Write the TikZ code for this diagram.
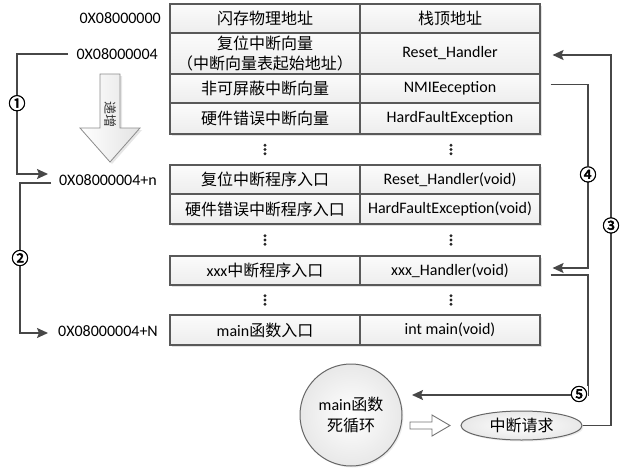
\documentclass[tikz,border=0pt]{standalone}
\usepackage{fontspec}
\setmainfont{Carlito}
\newfontfamily\cjk{Noto Sans CJK SC}
\newfontfamily\numfont[FakeBold=3]{Noto Sans CJK SC}
\usetikzlibrary{shapes.geometric,arrows.meta,shadows,calc}
\begin{document}
\begin{tikzpicture}[x=1pt,y=-1pt,
  font=\fontsize{16}{19}\selectfont,
  cellbase/.style={draw=black!65, line width=1.1pt, top color=gray!3, bottom color=gray!14,
    inner sep=0pt, align=center,
    drop shadow={shadow xshift=2pt,shadow yshift=-2pt,opacity=0.22}},
  cellL/.style={cellbase, minimum width=190pt},
  cellR/.style={cellbase, minimum width=180pt},
  addr/.style={anchor=east, inner sep=0pt},
  conn/.style={draw=black!72, line width=1.5pt, -{Stealth[length=11pt,width=10pt,inset=2pt]}},
  num/.style={font=\numfont\fontsize{17}{17}\selectfont, fill=white, inner sep=0pt},
  dotmark/.style={fill=black!85, draw=none},
]
\useasboundingbox (0,0) rectangle (625,472);

% ---- table cells
\node[cellL, minimum height=29pt] (L1) at (265,18.5) {\cjk 闪存物理地址};
\node[cellR, minimum height=29pt] (R1) at (450,18.5) {\cjk 栈顶地址};
\node[cellL, minimum height=41pt] (L2) at (265,53.5) {\cjk 复位中断向量\\[1pt]\cjk （中断向量表起始地址）};
\node[cellR, minimum height=41pt] (R2) at (450,53.5) {Reset\_Handler};
\node[cellL, minimum height=29pt] (L3) at (265,88.5) {\cjk 非可屏蔽中断向量};
\node[cellR, minimum height=29pt] (R3) at (450,88.5) {NMIEeception};
\node[cellL, minimum height=31pt] (L4) at (265,118.5) {\cjk 硬件错误中断向量};
\node[cellR, minimum height=31pt] (R4) at (450,118.5) {HardFaultException};

\node[cellL, minimum height=29pt] (L5) at (265,179.5) {\cjk 复位中断程序入口};
\node[cellR, minimum height=29pt] (R5) at (450,179.5) {Reset\_Handler(void)};
\node[cellL, minimum height=30pt] (L6) at (265,209) {\cjk 硬件错误中断程序入口};
\node[cellR, minimum height=30pt] (R6) at (450,209) {HardFaultException(void)};

\node[cellL, minimum height=29pt] (L7) at (265,270.5) {xxx{\cjk 中断程序入口}};
\node[cellR, minimum height=29pt] (R7) at (450,270.5) {xxx\_Handler(void)};

\node[cellL, minimum height=30pt] (L8) at (265,330) {main{\cjk 函数入口}};
\node[cellR, minimum height=30pt] (R8) at (450,330) {int main(void)};

% ---- vertical dots
\foreach \yy in {149.5,240,300}{
  \foreach \xx in {265,451}{
    \foreach \d in {-4.2,0,4.2}{
      \fill[dotmark] (\xx,\yy+\d) circle (1.6pt);
    }
  }
}

% ---- address labels
\node[addr] (A1) at (161,18) {0X08000000};
\node[addr] (A2) at (158,54) {0X08000004};
\node[addr] (A5) at (157,180) {0X08000004+n};
\node[addr] (A8) at (158,331) {0X08000004+N};

% ---- big down arrow
\draw[draw=black!45, line width=0.8pt, left color=white, right color=gray!22,
      drop shadow={shadow xshift=2pt,shadow yshift=-2pt,opacity=0.2}]
  (100,74) -- (120,74) -- (120,128) -- (140,128) -- (110,162) -- (80,128) -- (100,128) -- cycle;
\node[rotate=-90, font=\cjk\fontsize{13}{13}\selectfont, inner sep=0pt, text=black!80] (inc) at (110,114) {递增};

% ---- left connectors
\coordinate (c1s) at (68,54);
\coordinate (c1a) at (17,54);
\coordinate (c1b) at (17,174);
\coordinate (c1e) at (48,174);
\draw[conn] (c1s) -- (c1a) -- node[num, pos=0.41]{①} (c1b) -- (c1e);

\coordinate (c2s) at (51,183);
\coordinate (c2a) at (20,183);
\coordinate (c2b) at (20,333);
\coordinate (c2e) at (48,333);
\draw[conn] (c2s) -- (c2a) -- node[num, pos=0.5]{②} (c2b) -- (c2e);

% ---- bottom shapes
\node[circle, draw=black!60, line width=1pt, inner color=white, outer color=gray!18,
      minimum size=102pt, align=center, inner sep=0pt,
      drop shadow={shadow xshift=1.5pt,shadow yshift=-1.5pt,opacity=0.15}] (mc) at (351,415)
      {main{\cjk 函数}\\[2pt]{\cjk 死循环}};
\node[ellipse, draw=black!60, line width=1pt, inner color=white, outer color=gray!18,
      minimum width=121pt, minimum height=29pt, inner sep=0pt,
      drop shadow={shadow xshift=1.5pt,shadow yshift=-1.5pt,opacity=0.15}] (ell) at (521.5,425.5)
      {\cjk 中断请求};
\draw[draw=black!55, line width=0.9pt, fill=white]
  (410,422) -- (432,422) -- (432,415) -- (450,425.5) -- (432,436) -- (432,429) -- (410,429) -- cycle;

% ---- right connectors
\coordinate (c3a) at (611,425.5);
\coordinate (c3b) at (611,55);
\coordinate (c3e) at ($(R2.east)+(12,1.5)$);
\draw[conn] (ell.east) -- (c3a) -- node[num, pos=0.54]{③} (c3b) -- (c3e);

\coordinate (c4s) at ($(R3.east)+(10,-4)$);
\coordinate (c4a) at (588,84.5);
\coordinate (c4b) at (588,268);
\coordinate (c4e) at ($(R7.east)+(12,-2.5)$);
\draw[conn] (c4s) -- (c4a) -- node[num, pos=0.49]{④} (c4b) -- (c4e);

\coordinate (c5s) at ($(R7.east)+(10,4.5)$);
\coordinate (c5a) at (588,275);
\coordinate (c5b) at (588,395);
\coordinate (c5e) at (412,395);
\draw[conn] (c5s) -- (c5a) -- (c5b) -- (c5e);
\node[num] (n5) at (579,394) {⑤};
\end{tikzpicture}
\end{document}
